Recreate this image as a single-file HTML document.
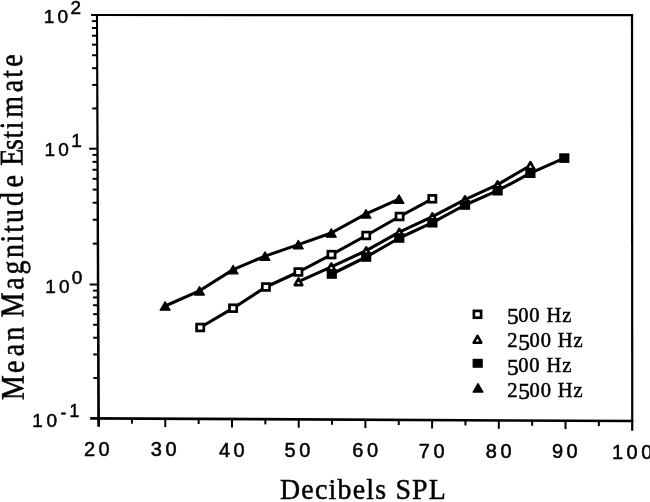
<!DOCTYPE html>
<html lang="en"><head><meta charset="utf-8"><title>Mean Magnitude Estimate vs Decibels SPL</title>
<style>
html,body{margin:0;padding:0;background:#fff;}
body{width:650px;height:502px;overflow:hidden;}
svg{display:block;}
.sans{font-family:"Liberation Sans",sans-serif;fill:#000;stroke:#000;stroke-width:0.5px;}
.serif{font-family:"Liberation Serif",serif;fill:#000;stroke:#000;stroke-width:0.5px;}
</style></head><body>
<svg width="650" height="502" viewBox="0 0 650 502">
<rect x="0" y="0" width="650" height="502" fill="#fff"/>
<g fill="#000" stroke="none">
<polygon points="91,13.95 633.1,14.05 633.1,16.2 91,16.1"/>
<polygon points="630.9,14.05 633.1,14.05 633.35,430.8 631.15,430.8"/>
<polygon points="95.95,14 98.0,14 100.0,426.8 97.25,426.8"/>
<polygon points="90.2,417.0 633.3,419.85 633.3,422.25 90.2,419.7"/>
</g>
<g stroke="#000" stroke-width="2" fill="none">
<line x1="92.27" y1="108.45" x2="97.37" y2="108.45"/>
<line x1="92.18" y1="84.91" x2="97.28" y2="84.91"/>
<line x1="92.11" y1="68.20" x2="97.21" y2="68.20"/>
<line x1="92.06" y1="55.25" x2="97.16" y2="55.25"/>
<line x1="92.02" y1="44.66" x2="97.12" y2="44.66"/>
<line x1="91.98" y1="35.71" x2="97.08" y2="35.71"/>
<line x1="91.95" y1="27.96" x2="97.05" y2="27.96"/>
<line x1="91.92" y1="21.12" x2="97.02" y2="21.12"/>
<line x1="89.13" y1="148.70" x2="97.53" y2="148.70"/>
<line x1="92.81" y1="243.62" x2="97.91" y2="243.62"/>
<line x1="92.71" y1="219.71" x2="97.81" y2="219.71"/>
<line x1="92.64" y1="202.74" x2="97.74" y2="202.74"/>
<line x1="92.59" y1="189.58" x2="97.69" y2="189.58"/>
<line x1="92.55" y1="178.83" x2="97.65" y2="178.83"/>
<line x1="92.51" y1="169.74" x2="97.61" y2="169.74"/>
<line x1="92.48" y1="161.86" x2="97.58" y2="161.86"/>
<line x1="92.46" y1="154.91" x2="97.56" y2="154.91"/>
<line x1="89.67" y1="284.50" x2="98.07" y2="284.50"/>
<line x1="93.34" y1="378.02" x2="98.44" y2="378.02"/>
<line x1="93.25" y1="354.46" x2="98.35" y2="354.46"/>
<line x1="93.18" y1="337.74" x2="98.28" y2="337.74"/>
<line x1="93.13" y1="324.78" x2="98.23" y2="324.78"/>
<line x1="93.09" y1="314.18" x2="98.19" y2="314.18"/>
<line x1="93.05" y1="305.23" x2="98.15" y2="305.23"/>
<line x1="93.02" y1="297.47" x2="98.12" y2="297.47"/>
<line x1="92.99" y1="290.62" x2="98.09" y2="290.62"/>
<line x1="131.95" y1="418.48" x2="131.95" y2="423.68"/>
<line x1="165.30" y1="418.65" x2="165.30" y2="427.05"/>
<line x1="198.65" y1="418.82" x2="198.65" y2="424.02"/>
<line x1="232.00" y1="419.00" x2="232.00" y2="427.40"/>
<line x1="265.35" y1="419.18" x2="265.35" y2="424.38"/>
<line x1="298.70" y1="419.35" x2="298.70" y2="427.75"/>
<line x1="332.05" y1="419.53" x2="332.05" y2="424.73"/>
<line x1="365.40" y1="419.70" x2="365.40" y2="428.10"/>
<line x1="398.75" y1="419.88" x2="398.75" y2="425.07"/>
<line x1="432.10" y1="420.05" x2="432.10" y2="428.45"/>
<line x1="465.45" y1="420.23" x2="465.45" y2="425.43"/>
<line x1="498.80" y1="420.40" x2="498.80" y2="428.80"/>
<line x1="532.15" y1="420.58" x2="532.15" y2="425.78"/>
<line x1="565.50" y1="420.75" x2="565.50" y2="429.15"/>
<line x1="598.85" y1="420.93" x2="598.85" y2="426.12"/>
</g>
<g fill="none" stroke="#000" stroke-width="3.1" stroke-linejoin="round">
<polyline points="200.2,327.5 233.1,308.2 265.9,287.0 298.4,272.0 331.5,254.6 366.2,235.5 399.6,216.5 432.3,198.8"/>
<polyline points="298.5,281.6 331.3,266.8 366.2,250.7 399.3,232.2 432.4,216.6 465.0,199.6 497.6,184.6 530.4,165.5"/>
<polyline points="331.8,274.0 366.2,257.0 399.3,238.0 432.4,222.7 465.0,205.0 497.6,190.7 530.4,173.2 564.3,158.1"/>
<polyline points="165.1,306.0 199.5,290.8 233.1,269.6 265.0,256.1 298.3,244.6 331.3,233.0 366.0,213.9 399.0,199.1"/>
</g>
<g>
<rect x="196.6" y="324.1" width="7.2" height="6.8" fill="#fff" stroke="#000" stroke-width="2.7"/>
<rect x="229.5" y="304.8" width="7.2" height="6.8" fill="#fff" stroke="#000" stroke-width="2.7"/>
<rect x="262.3" y="283.6" width="7.2" height="6.8" fill="#fff" stroke="#000" stroke-width="2.7"/>
<rect x="294.8" y="268.6" width="7.2" height="6.8" fill="#fff" stroke="#000" stroke-width="2.7"/>
<rect x="327.9" y="251.2" width="7.2" height="6.8" fill="#fff" stroke="#000" stroke-width="2.7"/>
<rect x="362.6" y="232.1" width="7.2" height="6.8" fill="#fff" stroke="#000" stroke-width="2.7"/>
<rect x="396.0" y="213.1" width="7.2" height="6.8" fill="#fff" stroke="#000" stroke-width="2.7"/>
<rect x="428.7" y="195.4" width="7.2" height="6.8" fill="#fff" stroke="#000" stroke-width="2.7"/>
<polygon points="298.5,278.3 302.3,285.1 294.7,285.1" fill="#fff" stroke="#000" stroke-width="2.6" stroke-linejoin="round"/>
<polygon points="331.3,263.5 335.1,270.3 327.5,270.3" fill="#fff" stroke="#000" stroke-width="2.6" stroke-linejoin="round"/>
<polygon points="366.2,247.4 370.0,254.2 362.4,254.2" fill="#fff" stroke="#000" stroke-width="2.6" stroke-linejoin="round"/>
<polygon points="399.3,228.9 403.1,235.7 395.5,235.7" fill="#fff" stroke="#000" stroke-width="2.6" stroke-linejoin="round"/>
<polygon points="432.4,213.3 436.2,220.1 428.6,220.1" fill="#fff" stroke="#000" stroke-width="2.6" stroke-linejoin="round"/>
<polygon points="465.0,196.3 468.8,203.1 461.2,203.1" fill="#fff" stroke="#000" stroke-width="2.6" stroke-linejoin="round"/>
<polygon points="497.6,181.3 501.4,188.1 493.8,188.1" fill="#fff" stroke="#000" stroke-width="2.6" stroke-linejoin="round"/>
<polygon points="530.4,162.2 534.2,169.0 526.6,169.0" fill="#fff" stroke="#000" stroke-width="2.6" stroke-linejoin="round"/>
<rect x="326.7" y="269.2" width="10.2" height="9.6" fill="#000"/>
<rect x="361.1" y="252.2" width="10.2" height="9.6" fill="#000"/>
<rect x="394.2" y="233.2" width="10.2" height="9.6" fill="#000"/>
<rect x="427.3" y="217.9" width="10.2" height="9.6" fill="#000"/>
<rect x="459.9" y="200.2" width="10.2" height="9.6" fill="#000"/>
<rect x="492.5" y="185.9" width="10.2" height="9.6" fill="#000"/>
<rect x="525.3" y="168.4" width="10.2" height="9.6" fill="#000"/>
<rect x="559.2" y="153.3" width="10.2" height="9.6" fill="#000"/>
<polygon points="165.1,301.8 170.0,310.2 160.2,310.2" fill="#000" stroke="#000" stroke-width="1.3" stroke-linejoin="round"/>
<polygon points="199.5,286.6 204.4,295.0 194.6,295.0" fill="#000" stroke="#000" stroke-width="1.3" stroke-linejoin="round"/>
<polygon points="233.1,265.4 238.0,273.8 228.2,273.8" fill="#000" stroke="#000" stroke-width="1.3" stroke-linejoin="round"/>
<polygon points="265.0,251.9 269.9,260.3 260.1,260.3" fill="#000" stroke="#000" stroke-width="1.3" stroke-linejoin="round"/>
<polygon points="298.3,240.4 303.2,248.8 293.4,248.8" fill="#000" stroke="#000" stroke-width="1.3" stroke-linejoin="round"/>
<polygon points="331.3,228.8 336.2,237.2 326.4,237.2" fill="#000" stroke="#000" stroke-width="1.3" stroke-linejoin="round"/>
<polygon points="366.0,209.7 370.9,218.1 361.1,218.1" fill="#000" stroke="#000" stroke-width="1.3" stroke-linejoin="round"/>
<polygon points="399.0,194.9 403.9,203.3 394.1,203.3" fill="#000" stroke="#000" stroke-width="1.3" stroke-linejoin="round"/>
</g>
<g>
<rect x="473.9" y="310.9" width="7.2" height="6.8" fill="#fff" stroke="#000" stroke-width="2.7"/>
<polygon points="477.5,335.9 481.3,342.7 473.7,342.7" fill="#fff" stroke="#000" stroke-width="2.6" stroke-linejoin="round"/>
<rect x="472.6" y="358.8" width="10.2" height="9.0" fill="#000"/>
<polygon points="478.0,383.6 482.9,392.0 473.1,392.0" fill="#000" stroke="#000" stroke-width="1.3" stroke-linejoin="round"/>
</g>
<g class="serif" font-size="20.5" letter-spacing="0.9">
<text x="507.0" y="321.5"><tspan font-size="23.5" dy="2.6" letter-spacing="-0.6">5</tspan><tspan dy="-2.6">00 Hz</tspan></text>
<text x="507.2" y="347">2<tspan font-size="23.5" dy="2.6" letter-spacing="-0.6">5</tspan><tspan dy="-2.6">00 Hz</tspan></text>
<text x="507.0" y="372.2"><tspan font-size="23.5" dy="2.6" letter-spacing="-0.6">5</tspan><tspan dy="-2.6">00 Hz</tspan></text>
<text x="507.2" y="396.5">2<tspan font-size="23.5" dy="2.6" letter-spacing="-0.6">5</tspan><tspan dy="-2.6">00 Hz</tspan></text>
</g>
<g class="sans" font-size="19" letter-spacing="3.2">
<text x="43.8" y="23.2">10</text><text x="70.5" y="13.6">2</text>
<text x="44.5" y="156.4">10</text><text x="71.2" y="147.1">1</text>
<text x="45.2" y="292.5">10</text><text x="71.8" y="283.6">0</text>
<text x="32.3" y="426.6" letter-spacing="3.6">10</text><text x="60.6" y="417.2" font-size="17.5" letter-spacing="3.1"><tspan dy="1.6">-</tspan><tspan dy="-1.6">1</tspan></text>
</g>
<g class="sans" font-size="20" letter-spacing="3.5">
<text x="83.9" y="455.9">20</text>
<text x="150.8" y="456.2">30</text>
<text x="218.9" y="456.6">40</text>
<text x="284.6" y="457">50</text>
<text x="352.3" y="457.3">60</text>
<text x="418.8" y="457.7">70</text>
<text x="485.8" y="458.0">80</text>
<text x="552" y="458.3">90</text>
<text x="612" y="458.7">100</text>
</g>
<text class="serif" font-size="30" letter-spacing="1.3" transform="translate(280,499.3) scale(0.93,1)">Decibels SPL</text>
<text class="serif" font-size="33" letter-spacing="2.5" word-spacing="-5" transform="translate(23.8,400) rotate(-90.3) scale(0.85,1)"><tspan letter-spacing="3.73" dx="0 -1.2 1.2 0">Mean</tspan> <tspan letter-spacing="3.1" dx="1.5 0 0 0 -1.5 -0.7 -0.9 0.5 2.2">Magnitude</tspan> <tspan letter-spacing="2.3" dx="2 -4 -1.6 -0.6 2.2 1.9 0.1 1.5">Estimate</tspan></text>
</svg></body></html>
